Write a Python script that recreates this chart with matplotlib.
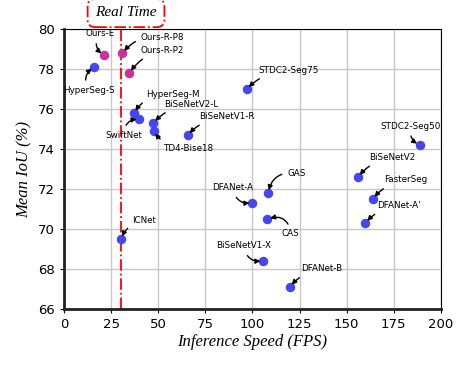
import matplotlib
matplotlib.use("Agg")
import matplotlib.pyplot as plt

# data: (name, fps, miou)
names = ["HyperSeg-S", "HyperSeg-M", "SwiftNet", "BiSeNetV2-L", "TD4-Bise18",
         "BiSeNetV1-R", "STDC2-Seg75", "STDC2-Seg50", "BiSeNetV2", "FasterSeg",
         "DFANet-A'", "GAS", "DFANet-A", "CAS", "BiSeNetV1-X", "DFANet-B", "ICNet"]
fps = [16, 37, 40, 47.4, 47.6, 65.6, 97, 188.7, 156, 163.9, 160, 108.4, 99.9, 108, 105.7, 119.9, 30.2]
miou = [78.1, 75.8, 75.5, 75.3, 74.9, 74.7, 77.0, 74.2, 72.6, 71.5, 70.3, 71.8, 71.3, 70.5, 68.4, 67.1, 69.5]

ours_names = ["Ours-E", "Ours-R-P8", "Ours-R-P2"]
ours_fps = [21, 31, 34.7]
ours_miou = [78.7, 78.8, 77.8]

# label anchor (x, y, ha, arc radius)
label_pos = {
    "HyperSeg-S": (13.4, 76.95, "center", -0.5),
    "HyperSeg-M": (43.5, 76.75, "left", 0.3),
    "SwiftNet": (31.8, 74.7, "center", -0.5),
    "BiSeNetV2-L": (53.4, 76.25, "left", 0.2),
    "TD4-Bise18": (52.7, 74.05, "left", -0.3),
    "BiSeNetV1-R": (71.5, 75.63, "left", 0.2),
    "STDC2-Seg75": (103.1, 77.95, "left", 0.2),
    "STDC2-Seg50": (184.1, 75.15, "center", 0.4),
    "BiSeNetV2": (162.2, 73.58, "left", 0.2),
    "FasterSeg": (169.9, 72.45, "left", 0.2),
    "DFANet-A'": (166.0, 71.17, "left", 0.2),
    "GAS": (118.5, 72.75, "left", 0.5),
    "DFANet-A": (89.8, 72.07, "center", 0.5),
    "CAS": (120.4, 69.75, "center", 0.6),
    "BiSeNetV1-X": (95.6, 69.15, "center", 0.5),
    "DFANet-B": (126.1, 68.0, "left", 0.2),
    "ICNet": (36.4, 70.4, "left", 0.3),
    "Ours-E": (19.1, 79.77, "center", 0.5),
    "Ours-R-P8": (40.7, 79.57, "left", 0.3),
    "Ours-R-P2": (40.7, 78.94, "left", 0.2),
}

blue = "#4646ee"
magenta = "#c8329a"

fig = plt.figure(figsize=(4.74, 3.69), dpi=100)
ax = fig.add_axes([0.135, 0.163, 0.795, 0.758])

ax.scatter(fps, miou, s=34, color=blue, zorder=3)
ax.scatter(ours_fps, ours_miou, s=34, color=magenta, zorder=3)

for n, x, y in list(zip(names, fps, miou)) + list(zip(ours_names, ours_fps, ours_miou)):
    tx, ty, ha, rad = label_pos[n]
    ax.annotate(n, xy=(x, y), xytext=(tx, ty), ha=ha, va="center", fontsize=6.3,
                arrowprops=dict(arrowstyle="-|>", color="black", lw=1.0,
                                mutation_scale=7, shrinkA=2, shrinkB=2,
                                connectionstyle=f"arc3,rad={rad}"),
                zorder=4)

# real-time line
ax.plot([30, 30], [66, 80.2], color="red", ls="-.", lw=1.3, clip_on=False, zorder=2)
fig.text(126 / 474, 1 - 13 / 369, "Real Time", ha="center", va="center",
         family="Liberation Serif", style="italic", fontsize=11,
         bbox=dict(boxstyle="round,pad=0.5", fc="white", ec="red", ls="-.", lw=1.3))

ax.set_xlim(0, 200)
ax.set_ylim(66, 80)
ax.set_xticks(range(0, 201, 25))
ax.set_yticks(range(66, 81, 2))
ax.tick_params(labelsize=9.5, length=3)
ax.grid(color="#c8c8c8", lw=1.0)
ax.set_axisbelow(True)
for s in ["left", "bottom"]:
    ax.spines[s].set_linewidth(2)
    ax.spines[s].set_color("#222222")
ax.set_xlabel("Inference Speed (FPS)", family="Liberation Serif", style="italic", fontsize=12, labelpad=2)
ax.set_ylabel("Mean IoU (%)", family="Liberation Serif", style="italic", fontsize=12, labelpad=4)

fig.savefig("out.png", dpi=100)
